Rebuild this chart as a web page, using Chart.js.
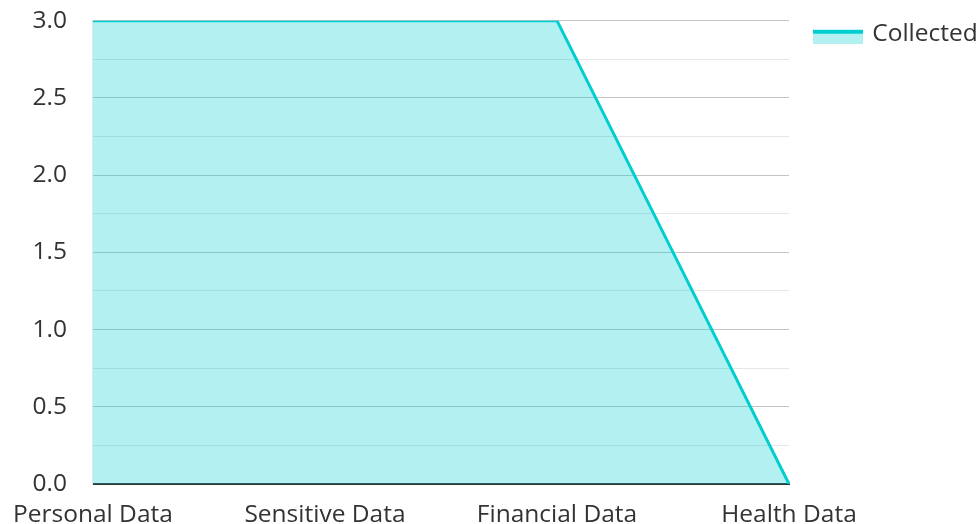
<!DOCTYPE html>
<html>
<head>
<meta charset="utf-8">
<script src="https://cdn.jsdelivr.net/npm/chart.js@4"></script>
<style>
  html, body { margin: 0; padding: 0; background: #fff; }
  #wrap { width: 980px; height: 524px; }
</style>
</head>
<body>
<div id="wrap"><canvas id="dataChart" width="980" height="524"></canvas></div>
<script>
// 데이터
const categories = ['Personal Data', 'Sensitive Data', 'Financial Data', 'Health Data'];
const collected = [3, 3, 3, 0];
const yTicks = [0, 0.5, 1.0, 1.5, 2.0, 2.5, 3.0];

const lineColor = '#00ced1';
const fillColor = 'rgba(0, 206, 209, 0.3)';

// 범례 아이콘 (위쪽 선 + 채움), 아래로 조금 내림
function legendIcon() {
    const c = document.createElement('canvas');
    c.width = 50;
    c.height = 19;
    const g = c.getContext('2d');
    g.fillStyle = fillColor;
    g.fillRect(0, 5, 50, 14);
    g.fillStyle = lineColor;
    g.fillRect(0, 5, 50, 4);
    return c;
}

Chart.defaults.font.family = '"Open Sans", sans-serif';
Chart.defaults.font.size = 24.5;
Chart.defaults.color = '#333';

const ctx = document.getElementById('dataChart').getContext('2d');
window.chart = new Chart(ctx, {
    type: 'line',
    data: {
        labels: categories,
        datasets: [{
            label: 'Collected',
            data: collected,
            borderColor: lineColor,
            backgroundColor: fillColor,
            borderWidth: 3,
            fill: 'origin',
            tension: 0,
            pointRadius: 0,
            pointHoverRadius: 0
        }]
    },
    options: {
        responsive: false,
        animation: false,
        layout: {
            padding: { left: 0, top: -5, right: 0, bottom: 0 }
        },
        plugins: {
            legend: {
                position: 'right',
                align: 'start',
                maxWidth: 191,
                labels: {
                    usePointStyle: true,
                    pointStyle: legendIcon(),
                    pointStyleWidth: 44,
                    padding: 27,
                    color: '#333'
                }
            },
            tooltip: { enabled: false }
        },
        scales: {
            x: {
                offset: false,
                grid: {
                    display: true,
                    drawOnChartArea: false,
                    drawTicks: true,
                    tickLength: 3,
                    tickColor: 'rgba(0,0,0,0)'
                },
                border: { display: true, color: '#333', width: 2 },
                ticks: { padding: 13, maxRotation: 0, autoSkip: false },
                afterFit: (scale) => { scale.height = 40; } // 축 높이 고정
            },
            y: {
                min: 0,
                max: 3,
                grid: {
                    drawTicks: true,
                    tickLength: 20,
                    tickColor: 'rgba(0,0,0,0)',
                    color: (c) => (yTicks.includes(c.tick.value) ? '#c4c4c4' : '#e6e6e6'),
                    lineWidth: 1
                },
                border: { display: true, color: '#e6e6e6', width: 1 },
                ticks: {
                    stepSize: 0.25,
                    autoSkip: false,
                    padding: 6,
                    callback: (v) => (yTicks.includes(v) ? v.toFixed(1) : '')
                }
            }
        }
    }
});
</script>
</body>
</html>
